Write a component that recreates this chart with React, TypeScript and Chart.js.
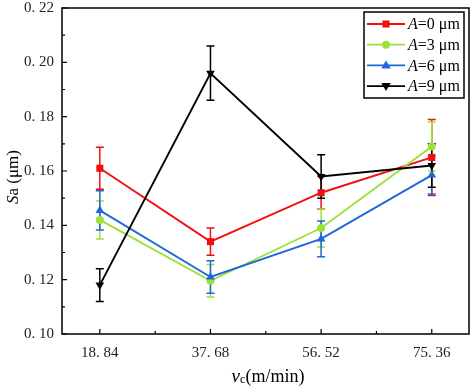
import React, { useEffect, useRef } from "react";
import { Chart, registerables } from "chart.js";

Chart.register(...registerables);

const xValues = [18.84, 37.68, 56.52, 75.36];
const xTicks = [18.84, 37.68, 56.52, 75.36];
const xMinorTicks = [28.26, 47.1, 65.94];
const yTicks = [0.1, 0.12, 0.14, 0.16, 0.18, 0.2, 0.22];
const yMinorTicks = [0.11, 0.13, 0.15, 0.17, 0.19, 0.21];

const seriesNames = ["0", "3", "6", "9"];
const red = [0.161, 0.134, 0.152, 0.165];
const redErr = [0.0077, 0.005, 0.006, 0.014];
const green = [0.142, 0.1196, 0.139, 0.169];
const greenErr = [0.007, 0.006, 0.007, 0.009];
const blue = [0.1455, 0.121, 0.135, 0.1585];
const blueErr = [0.0072, 0.006, 0.0066, 0.007];
const black = [0.118, 0.196, 0.158, 0.162];
const blackErr = [0.006, 0.01, 0.008, 0.008];

const colors = ["#f01010", "#9de03a", "#1f66d6", "#000000"];
const styles = ["rect", "circle", "triangle", "triangle"];
const rotations = [0, 0, 0, 180];
const radii = [5, 4, 5, 5];
const values = [red, green, blue, black];
const errors = [redErr, greenErr, blueErr, blackErr];

const FONT = "'Liberation Serif', 'Times New Roman', serif";

function drawMarker(ctx: CanvasRenderingContext2D, style: string, rot: number, r: number, x: number, y: number, color: string) {
  ctx.save();
  ctx.fillStyle = color;
  ctx.beginPath();
  if (style === "rect") {
    const s = Math.SQRT1_2 * r;
    ctx.rect(x - s, y - s, 2 * s, 2 * s);
  } else if (style === "circle") {
    ctx.arc(x, y, r, 0, Math.PI * 2);
  } else {
    const dir = rot === 180 ? -1 : 1;
    ctx.moveTo(x, y - dir * r);
    ctx.lineTo(x - r * 0.95, y + dir * r * 0.6);
    ctx.lineTo(x + r * 0.95, y + dir * r * 0.6);
    ctx.closePath();
  }
  ctx.fill();
  ctx.restore();
}

const decoPlugin = {
  id: "deco",
  beforeDatasetsDraw(chart: any) {
    const ctx = chart.ctx as CanvasRenderingContext2D;
    const xs = chart.scales.x;
    const ys = chart.scales.y;
    ctx.save();
    ctx.lineWidth = 1.5;
    values.forEach((vals, i) => {
      ctx.strokeStyle = colors[i];
      vals.forEach((v, j) => {
        const x = xs.getPixelForValue(xValues[j]);
        const yt = ys.getPixelForValue(v + errors[i][j]);
        const yb = ys.getPixelForValue(v - errors[i][j]);
        ctx.beginPath();
        ctx.moveTo(x, yt);
        ctx.lineTo(x, yb);
        ctx.moveTo(x - 4, yt);
        ctx.lineTo(x + 4, yt);
        ctx.moveTo(x - 4, yb);
        ctx.lineTo(x + 4, yb);
        ctx.stroke();
      });
    });
    ctx.restore();
  },
  afterDraw(chart: any) {
    const ctx = chart.ctx as CanvasRenderingContext2D;
    const a = chart.chartArea;
    const xs = chart.scales.x;
    const ys = chart.scales.y;
    ctx.save();
    ctx.strokeStyle = "#000";
    ctx.lineWidth = 1.5;
    ctx.strokeRect(a.left, a.top, a.right - a.left, a.bottom - a.top);
    ctx.lineWidth = 1.2;
    ctx.beginPath();
    yTicks.forEach((v) => {
      const y = ys.getPixelForValue(v);
      ctx.moveTo(a.left, y);
      ctx.lineTo(a.left + 5, y);
    });
    yMinorTicks.forEach((v) => {
      const y = ys.getPixelForValue(v);
      ctx.moveTo(a.left, y);
      ctx.lineTo(a.left + 3, y);
    });
    xTicks.forEach((v) => {
      const x = xs.getPixelForValue(v);
      ctx.moveTo(x, a.bottom);
      ctx.lineTo(x, a.bottom - 5);
    });
    xMinorTicks.forEach((v) => {
      const x = xs.getPixelForValue(v);
      ctx.moveTo(x, a.bottom);
      ctx.lineTo(x, a.bottom - 3);
    });
    ctx.stroke();

    // Axis titles
    ctx.fillStyle = "#000";
    ctx.textBaseline = "middle";
    ctx.save();
    ctx.translate(14, 177);
    ctx.rotate(-Math.PI / 2);
    ctx.font = `italic 17px ${FONT}`;
    const sW = ctx.measureText("S").width;
    ctx.font = `17px ${FONT}`;
    const restY = "a (μm)";
    const rW = ctx.measureText(restY).width;
    const totY = sW + rW;
    ctx.textAlign = "left";
    ctx.font = `italic 17px ${FONT}`;
    ctx.fillText("S", -totY / 2, 0);
    ctx.font = `17px ${FONT}`;
    ctx.fillText(restY, -totY / 2 + sW, 0);
    ctx.restore();

    ctx.font = `italic 19px ${FONT}`;
    const vW = ctx.measureText("v").width;
    ctx.font = `12px ${FONT}`;
    const cW = ctx.measureText("c").width;
    ctx.font = `18px ${FONT}`;
    const unit = "(m/min)";
    const uW = ctx.measureText(unit).width;
    const tot = vW + cW + uW;
    const cx = 268;
    const ty = 377;
    let x0 = cx - tot / 2;
    ctx.textAlign = "left";
    ctx.font = `italic 19px ${FONT}`;
    ctx.fillText("v", x0, ty);
    x0 += vW;
    ctx.font = `12px ${FONT}`;
    ctx.fillText("c", x0, ty + 3);
    x0 += cW;
    ctx.font = `18px ${FONT}`;
    ctx.fillText(unit, x0, ty);

    // Legend
    const lx = 364, ly = 12, lw = 100, lh = 86;
    ctx.fillStyle = "#fff";
    ctx.fillRect(lx, ly, lw, lh);
    ctx.lineWidth = 1.5;
    ctx.strokeStyle = "#000";
    ctx.strokeRect(lx, ly, lw, lh);
    seriesNames.forEach((n, i) => {
      const y = 24 + i * 20.7;
      ctx.strokeStyle = colors[i];
      ctx.lineWidth = 1.8;
      ctx.beginPath();
      ctx.moveTo(367, y);
      ctx.lineTo(405, y);
      ctx.stroke();
      drawMarker(ctx, styles[i], rotations[i], radii[i], 386, y, colors[i]);
      ctx.fillStyle = "#000";
      ctx.textAlign = "left";
      ctx.font = `italic 16px ${FONT}`;
      ctx.fillText("A", 408, y + 1);
      const aW = ctx.measureText("A").width;
      ctx.font = `16px ${FONT}`;
      ctx.fillText(`=${n} μm`, 408 + aW, y + 1);
    });
    ctx.restore();
  },
};

export default function App() {
  const ref = useRef<HTMLCanvasElement>(null);
  useEffect(() => {
    if (!ref.current) return;
    const chart = new Chart(ref.current, {
      type: "line",
      data: {
        datasets: values.map((vals, i) => ({
          label: `A=${seriesNames[i]} μm`,
          data: vals.map((v, j) => ({ x: xValues[j], y: v })),
          borderColor: colors[i],
          backgroundColor: colors[i],
          borderWidth: 1.9,
          pointStyle: styles[i] as any,
          rotation: rotations[i],
          pointRadius: radii[i],
          pointBorderWidth: 0,
          order: 4 - i,
        })),
      },
      options: {
        animation: false,
        responsive: false,
        maintainAspectRatio: false,
        layout: { padding: { left: 0, right: 4, top: 8, bottom: 0 } },
        plugins: { legend: { display: false }, tooltip: { enabled: false } },
        scales: {
          x: {
            type: "linear",
            min: 12.4,
            max: 81.7,
            afterBuildTicks: (scale: any) => {
              scale.ticks = xTicks.map((v) => ({ value: v }));
            },
            afterFit: (scale: any) => {
              scale.height = 55;
              scale.paddingLeft = 0;
              scale.paddingRight = 0;
            },
            grid: { display: false, drawTicks: false },
            border: { display: false },
            ticks: {
              padding: 10,
              color: "#222",
              font: { family: FONT, size: 15 },
              callback: (v: any) => Number(v).toFixed(2).replace(".", ". "),
            },
          },
          y: {
            min: 0.1,
            max: 0.22,
            afterBuildTicks: (scale: any) => {
              scale.ticks = yTicks.map((v) => ({ value: v }));
            },
            afterFit: (scale: any) => {
              scale.width = 62;
              scale.paddingTop = 0;
              scale.paddingBottom = 0;
            },
            grid: { display: false, drawTicks: false },
            border: { display: false },
            ticks: {
              padding: 8,
              color: "#222",
              font: { family: FONT, size: 15 },
              callback: (v: any) => Number(v).toFixed(2).replace(".", ". "),
            },
          },
        },
      },
      plugins: [decoPlugin],
    });
    return () => chart.destroy();
  }, []);
  return (
    <div style={{ position: "fixed", left: 0, top: 0, width: 474, height: 389, background: "#fff" }}>
      <canvas ref={ref} width={474} height={389} style={{ width: 474, height: 389 }} />
    </div>
  );
}
